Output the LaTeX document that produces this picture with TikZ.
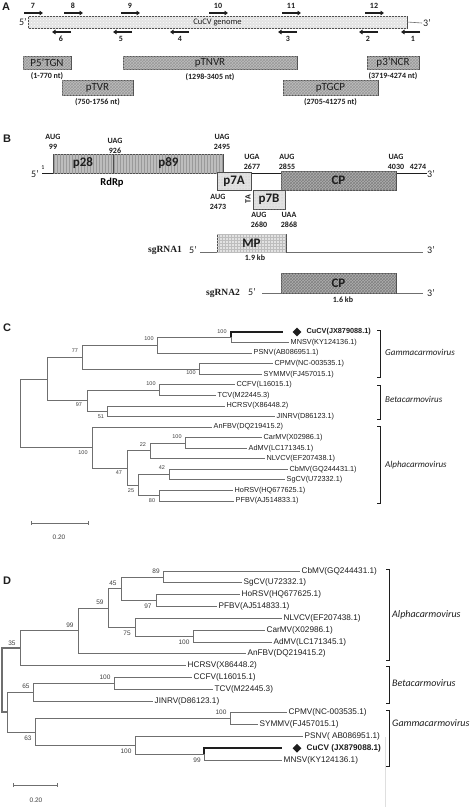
\documentclass[tikz,border=0pt]{standalone}
\usepackage{fontspec}
\setmainfont{Carlito}
\newfontfamily\arialfont{Liberation Sans}
\newfontfamily\timesfont{Liberation Serif}
\usetikzlibrary{arrows.meta,positioning,calc,patterns,shapes.geometric}
\definecolor{Ink}{HTML}{1E1E1E}
\definecolor{Branch}{HTML}{6F6F6F}
\definecolor{Edge}{HTML}{4E4E4E}
\definecolor{Shade}{HTML}{BDBDBD}
\definecolor{ShadeDark}{HTML}{9A9A9A}
\definecolor{ShadeLight}{HTML}{E2E2E2}
\definecolor{Boot}{HTML}{404040}
\tikzset{
  panel/.style={font=\arialfont\bfseries\fontsize{11}{11}\selectfont,text=Ink,inner sep=0pt},
  genome/.style={draw=Edge,fill=ShadeLight,postaction={pattern=crosshatch dots,pattern color=white},inner sep=0pt,font=\fontsize{8.5}{8.5}\selectfont,text=Ink},
  region/.style={draw=Edge,fill=Shade,postaction={pattern=crosshatch,pattern color=ShadeDark},inner sep=0pt,font=\fontsize{11}{11}\selectfont,text=Ink},
  span/.style={font=\bfseries\fontsize{8}{8}\selectfont,text=Ink,inner sep=0pt},
  primer/.style={-{Triangle[length=3.5pt,width=4.5pt]},line width=1.4pt,draw=Ink},
  plab/.style={font=\bfseries\fontsize{8}{8}\selectfont,text=Ink,inner sep=0pt},
  prime/.style={font=\fontsize{10}{10}\selectfont,text=Ink,inner sep=1pt},
  orf/.style={draw=Edge,inner sep=0pt,font=\bfseries\fontsize{13}{13}\selectfont,text=Ink},
  orfrdrp/.style={orf,fill=Shade,postaction={pattern=vertical lines,pattern color=ShadeDark}},
  orfsmall/.style={orf,fill=ShadeLight,postaction={pattern=dots,pattern color=Shade}},
  orfcp/.style={orf,fill=ShadeDark!80,postaction={pattern=crosshatch,pattern color=gray}},
  orfmp/.style={orf,fill=ShadeLight,postaction={pattern=grid,pattern color=Shade}},
  codon/.style={font=\bfseries\fontsize{8}{10}\selectfont,text=Ink,align=center,inner sep=0pt},
  sg/.style={font=\timesfont\bfseries\fontsize{9.5}{9.5}\selectfont,text=Ink,inner sep=0pt},
  rna/.style={draw=Branch,line width=0.6pt},
  br/.style={draw=Branch,line width=0.8pt},
  brthick/.style={draw=Ink,line width=1.6pt},
  brroot/.style={draw=Branch,line width=1.6pt},
  taxc/.style={font=\arialfont\fontsize{7.3}{7.3}\selectfont,text=Ink,anchor=west,inner xsep=1.5pt,inner ysep=0pt},
  taxd/.style={font=\arialfont\fontsize{8.2}{8.2}\selectfont,text=Ink,anchor=west,inner xsep=1.5pt,inner ysep=0pt},
  bsc/.style={font=\arialfont\fontsize{5.5}{5.5}\selectfont,text=Boot,inner sep=0pt},
  bsd/.style={font=\arialfont\fontsize{6.5}{6.5}\selectfont,text=Boot,inner sep=0pt},
  clade/.style={draw=Ink,line width=0.7pt},
  cladec/.style={font=\itshape\fontsize{9}{9}\selectfont,text=Ink,anchor=west,inner sep=0pt},
  claded/.style={font=\itshape\fontsize{10}{10}\selectfont,text=Ink,anchor=west,inner sep=0pt},
  tip/.style={diamond,fill=Ink,inner sep=0pt,minimum size=9pt},
  scalebar/.style={{Bar[width=4pt]}-{Bar[width=4pt]},draw=Branch,line width=0.8pt}
}

\begin{document}
\begin{tikzpicture}[x=1pt,y=-1pt]
  \fill[white] (0,0) rectangle (474,807);
  \useasboundingbox (0,0) rectangle (474,807);

  \node[panel] (pa) at (6,7) {A};
  \node[genome,minimum width=379pt,minimum height=12pt] (gen) at (217.5,22) {CuCV genome};
  \node[prime,anchor=east] (g5) at (gen.west) {5’};
  \node[prime] (g3) at (427,23) {3’};
  \draw[rna] (gen.east) -- (g3.west);
  \foreach \n/\xa in {7/24,8/64,9/121,10/209,11/282,12/365}{
    \draw[primer] (\xa,13) -- ++(19,0);
    \node[plab] (f\n) at (\xa+9,6) {\n};
  }
  \foreach \n/\xa/\xl in {6/71/61,5/132/121,4/189/180,3/297/288,2/378/368,1/420/413}{
    \draw[primer] (\xa,32) -- ++(-19,0);
    \node[plab] (r\n) at (\xl,38.5) {\n};
  }
  \node[region,minimum width=48pt,minimum height=13pt] (r5tgn) at (47,62.5) {P5’TGN};
  \node[span,below=3pt of r5tgn] (s5tgn) {(1-770 nt)};
  \node[region,minimum width=174pt,minimum height=13pt] (rtnvr) at (210,62.5) {pTNVR};
  \node[span,below=4pt of rtnvr] (stnvr) {(1298-3405 nt)};
  \node[region,minimum width=52pt,minimum height=13pt] (rncr) at (393,62.5) {p3’NCR};
  \node[span,below=3pt of rncr] (sncr) {(3719-4274 nt)};
  \node[region,minimum width=71pt,minimum height=15pt] (rtvr) at (97.5,87.5) {pTVR};
  \node[span,below=3pt of rtvr] (stvr) {(750-1756 nt)};
  \node[region,minimum width=95pt,minimum height=15pt] (rtgcp) at (330.5,87.5) {pTGCP};
  \node[span,below=3pt of rtgcp] (stgcp) {(2705-41275 nt)};

  \node[panel] (pb) at (7,139) {B};
  \coordinate (m0) at (42,173);
  \coordinate (m1) at (427,173);
  \draw[draw=Ink,line width=0.6pt] (m0) -- (m1);
  \node[prime,anchor=east] (b5) at (40,174) {5’};
  \node[font=\fontsize{6}{6}\selectfont,inner sep=0pt] (b1) at (43,168) {1};
  \node[orfrdrp,minimum width=60pt,minimum height=19pt] (p28) at (83,163.5) {p28};
  \node[orfrdrp,minimum width=110pt,minimum height=19pt,right=0pt of p28] (p89) {p89};
  \node[font=\bfseries\fontsize{10.5}{10.5}\selectfont,inner sep=0pt] (rdrp) at (112,183) {RdRp};
  \node[codon] (c99) at (53,142) {AUG\\99};
  \node[codon] (c926) at (115,145.5) {UAG\\926};
  \node[codon] (c2495) at (222,142) {UAG\\2495};
  \node[codon] (c2677) at (252,162) {UGA\\2677};
  \node[codon] (c2855) at (287,162) {AUG\\2855};
  \node[codon] (c4030) at (396,162) {UAG\\4030};
  \node[codon] (c4274) at (418,167) {4274};
  \node[prime] (b3) at (431,174) {3’};
  \node[orfsmall,minimum width=34pt,minimum height=18pt] (p7a) at (234,181) {p7A};
  \node[orfcp,minimum width=115pt,minimum height=19pt] (cp) at (338.5,180.5) {CP};
  \node[orfsmall,minimum width=32pt,minimum height=19pt] (p7b) at (269,199.5) {p7B};
  \node[codon,rotate=90] (ta) at (248,199) {TA};
  \node[codon] (c2473) at (218,201.5) {AUG\\2473};
  \node[codon] (c2680) at (259,220) {AUG\\2680};
  \node[codon] (c2868) at (289,220) {UAA\\2868};

  \coordinate (s1a) at (200,252);
  \coordinate (s1b) at (423,252);
  \draw[rna] (s1a) -- (s1b);
  \node[orfmp,minimum width=69pt,minimum height=18pt] (mp) at (251.5,243) {MP};
  \node[sg] (sg1) at (165,250) {sgRNA1};
  \node[prime] (s15) at (193,250) {5’};
  \node[prime] (s13) at (431,250) {3’};
  \node[span] (kb1) at (255,258) {1.9 kb};
  \coordinate (s2a) at (262,293);
  \coordinate (s2b) at (423,293);
  \draw[rna] (s2a) -- (s2b);
  \node[orfcp,minimum width=115pt,minimum height=20pt] (cp2) at (338.5,283) {CP};
  \node[sg] (sg2) at (223,293) {sgRNA2};
  \node[prime] (s25) at (252,292) {5’};
  \node[prime] (s23) at (431,293) {3’};
  \node[span] (kb2) at (343,299.5) {1.6 kb};

  \node[panel] (pc) at (7,328) {C};
  \foreach \nm/\xx/\yy/\lab in {MNSV/289/342.6/MNSV(KY124136.1),PSNV/252/353.1/PSNV(AB086951.1),CPMV/273/363.7/CPMV(NC-003535.1),SYMMV/262/374.2/SYMMV(FJ457015.1),CCFV/235/384.8/CCFV(L16015.1),TCV/216/395.4/TCV(M22445.3),HCRSV/225/405.9/HCRSV(X86448.2),JINRV/275/416.5/JINRV(D86123.1),AnFBV/212/427/AnFBV(DQ219415.2),CarMV/262/437.6/CarMV(X02986.1),AdMV/247/448.2/AdMV(LC171345.1),NLVCV/265/458.7/NLVCV(EF207438.1),CbMV/288/469.3/CbMV(GQ244431.1),SgCV/285/479.8/SgCV(U72332.1),HoRSV/233/490.4/HoRSV(HQ677625.1),PFBV/234/501/PFBV(AJ514833.1)}
    \node[taxc] (c\nm) at (\xx,\yy) {\lab};
  \coordinate (cCuCVend) at (283,332);
  \node[tip] (cdia) at (297,332) {};
  \node[taxc,font=\arialfont\bfseries\fontsize{7.3}{7.3}\selectfont] (cCuCV) at (305,332) {CuCV(JX879088.1)};
  \coordinate (cn1) at (231,337.3);
  \coordinate (cn2) at (157,345.2);
  \coordinate (cn3) at (199,369);
  \coordinate (cgam) at (82,357.1);
  \coordinate (cn4) at (159,390.1);
  \coordinate (cn5) at (107,411.2);
  \coordinate (cbet) at (87,400.6);
  \coordinate (cup) at (47,378.9);
  \coordinate (cn6) at (185,442.9);
  \coordinate (cn7) at (150,450.8);
  \coordinate (cn8) at (169,474.5);
  \coordinate (cn9) at (159,495.7);
  \coordinate (cn10) at (138,485.1);
  \coordinate (cn11) at (127,468);
  \coordinate (calp) at (92,447.5);
  \coordinate (croot) at (20,413.2);
  \draw[brthick] (cn1) |- (cCuCVend);
  \foreach \p/\c in {cn1/cMNSV.west,cn2/cn1,cn2/cPSNV.west,cn3/cCPMV.west,cn3/cSYMMV.west,cgam/cn2,cgam/cn3,cn4/cCCFV.west,cn4/cTCV.west,cn5/cHCRSV.west,cn5/cJINRV.west,cbet/cn4,cbet/cn5,cup/cgam,cup/cbet,cn6/cCarMV.west,cn6/cAdMV.west,cn7/cn6,cn7/cNLVCV.west,cn8/cCbMV.west,cn8/cSgCV.west,cn9/cHoRSV.west,cn9/cPFBV.west,cn10/cn8,cn10/cn9,cn11/cn7,cn11/cn10,calp/cAnFBV.west,calp/cn11,croot/cup,croot/calp}
    \draw[br] (\p) |- (\c);
  \foreach \t/\xx/\yy [count=\i] in {100/222/332,100/149/339,100/191/373,77/75/351,100/151/384,51/101/417,97/79/405,100/177/437,22/143/445,42/162/468,80/152/501,25/131/491,47/119/473,100/83/453}
    \node[bsc] (cb\i) at (\xx,\yy) {\t};
  \foreach \xb/\ya/\yb in {380/330/377,380/385/419,380/426/503}
    \draw[clade] (\xb-3,\ya) -- (\xb,\ya) -- (\xb,\yb) -- (\xb-3,\yb);
  \node[cladec] (cgl) at (385,352) {Gammacarmovirus};
  \node[cladec] (cbl) at (385,399) {Betacarmovirus};
  \node[cladec] (cal) at (385,465) {Alphacarmovirus};
  \coordinate (csc0) at (31,523);
  \coordinate (csc1) at (89,523);
  \draw[scalebar] (csc0) -- (csc1);
  \node[bsd] (cscl) at (59,537) {0.20};

  \node[panel] (pd) at (7,581) {D};
  \foreach \nm/\xx/\yy/\lab in {CbMV/300/571/CbMV(GQ244431.1),SgCV/242/582.8/SgCV(U72332.1),HoRSV/240/594.6/HoRSV(HQ677625.1),PFBV/217/606.4/PFBV(AJ514833.1),NLVCV/282/618.2/NLVCV(EF207438.1),CarMV/265/630.1/CarMV(X02986.1),AdMV/272/641.9/AdMV(LC171345.1),AnFBV/246/653.7/AnFBV(DQ219415.2),HCRSV/186/665.5/HCRSV(X86448.2),CCFV/192/677.3/CCFV(L16015.1),TCV/213/689.1/TCV(M22445.3),JINRV/153/700.9/JINRV(D86123.1),CPMV/287/712.7/CPMV(NC-003535.1),SYMMV/258/724.5/SYMMV(FJ457015.1),PSNV/303/736.3/PSNV( AB086951.1),MNSV/282/760/MNSV(KY124136.1)}
    \node[taxd] (d\nm) at (\xx,\yy) {\lab};
  \coordinate (dCuCVend) at (282,748.2);
  \node[tip] (ddia) at (297,748.2) {};
  \node[taxd,font=\arialfont\bfseries\fontsize{8.2}{8.2}\selectfont] (dCuCV) at (305,748.2) {CuCV (JX879088.1)};
  \coordinate (dn1) at (163,576.9);
  \coordinate (dn2) at (156,600.5);
  \coordinate (dn3) at (121,588.7);
  \coordinate (dn4) at (193,636);
  \coordinate (dn5) at (135,627.1);
  \coordinate (dn6) at (108,607.9);
  \coordinate (dn7) at (78,630.8);
  \coordinate (dn8) at (20,648.2);
  \coordinate (dn9) at (114,683.2);
  \coordinate (dn10) at (33,692);
  \coordinate (dn11) at (230,718.6);
  \coordinate (dn12) at (204,754.1);
  \coordinate (dn13) at (135,745.2);
  \coordinate (dn14) at (35,731.9);
  \coordinate (dn15) at (7,712);
  \coordinate (droot) at (2,680.1);
  \draw[brthick] (dn12) |- (dCuCVend);
  \foreach \p/\c in {dn1/dCbMV.west,dn1/dSgCV.west,dn2/dHoRSV.west,dn2/dPFBV.west,dn3/dn1,dn3/dn2,dn4/dCarMV.west,dn4/dAdMV.west,dn5/dNLVCV.west,dn5/dn4,dn6/dn3,dn6/dn5,dn7/dn6,dn7/dAnFBV.west,dn8/dn7,dn8/dHCRSV.west,dn9/dCCFV.west,dn9/dTCV.west,dn10/dn9,dn10/dJINRV.west,dn11/dCPMV.west,dn11/dSYMMV.west,dn12/dMNSV.west,dn13/dPSNV.west,dn13/dn12,dn14/dn11,dn14/dn13,dn15/dn10,dn15/dn14}
    \draw[br] (\p) |- (\c);
  \draw[brroot] (droot) |- (dn8);
  \draw[brroot] (droot) |- (dn15);
  \foreach \t/\xx/\yy [count=\i] in {89/156/571,97/148/606,45/113/583,100/184/642,75/127/633,59/100/602,99/70/625,35/12/643,100/105/677,65/26/686,100/221/712,99/197/760,100/126/751,63/28/738}
    \node[bsd] (db\i) at (\xx,\yy) {\t};
  \foreach \xb/\ya/\yb in {389/569/660,389/666/703,389/710/766}
    \draw[clade] (\xb-3,\ya) -- (\xb,\ya) -- (\xb,\yb) -- (\xb-3,\yb);
  \node[claded] (dal) at (392,615) {Alphacarmovirus};
  \node[claded] (dbl) at (392,683) {Betacarmovirus};
  \node[claded] (dgl) at (392,723) {Gammacarmovirus};
  \draw[draw=gray!25,line width=0.5pt] (385,737) -- (385,807);
  \coordinate (dsc0) at (13,785);
  \coordinate (dsc1) at (58,785);
  \draw[scalebar] (dsc0) -- (dsc1);
  \node[bsd] (dscl) at (36,800) {0.20};
\end{tikzpicture}
\end{document}
